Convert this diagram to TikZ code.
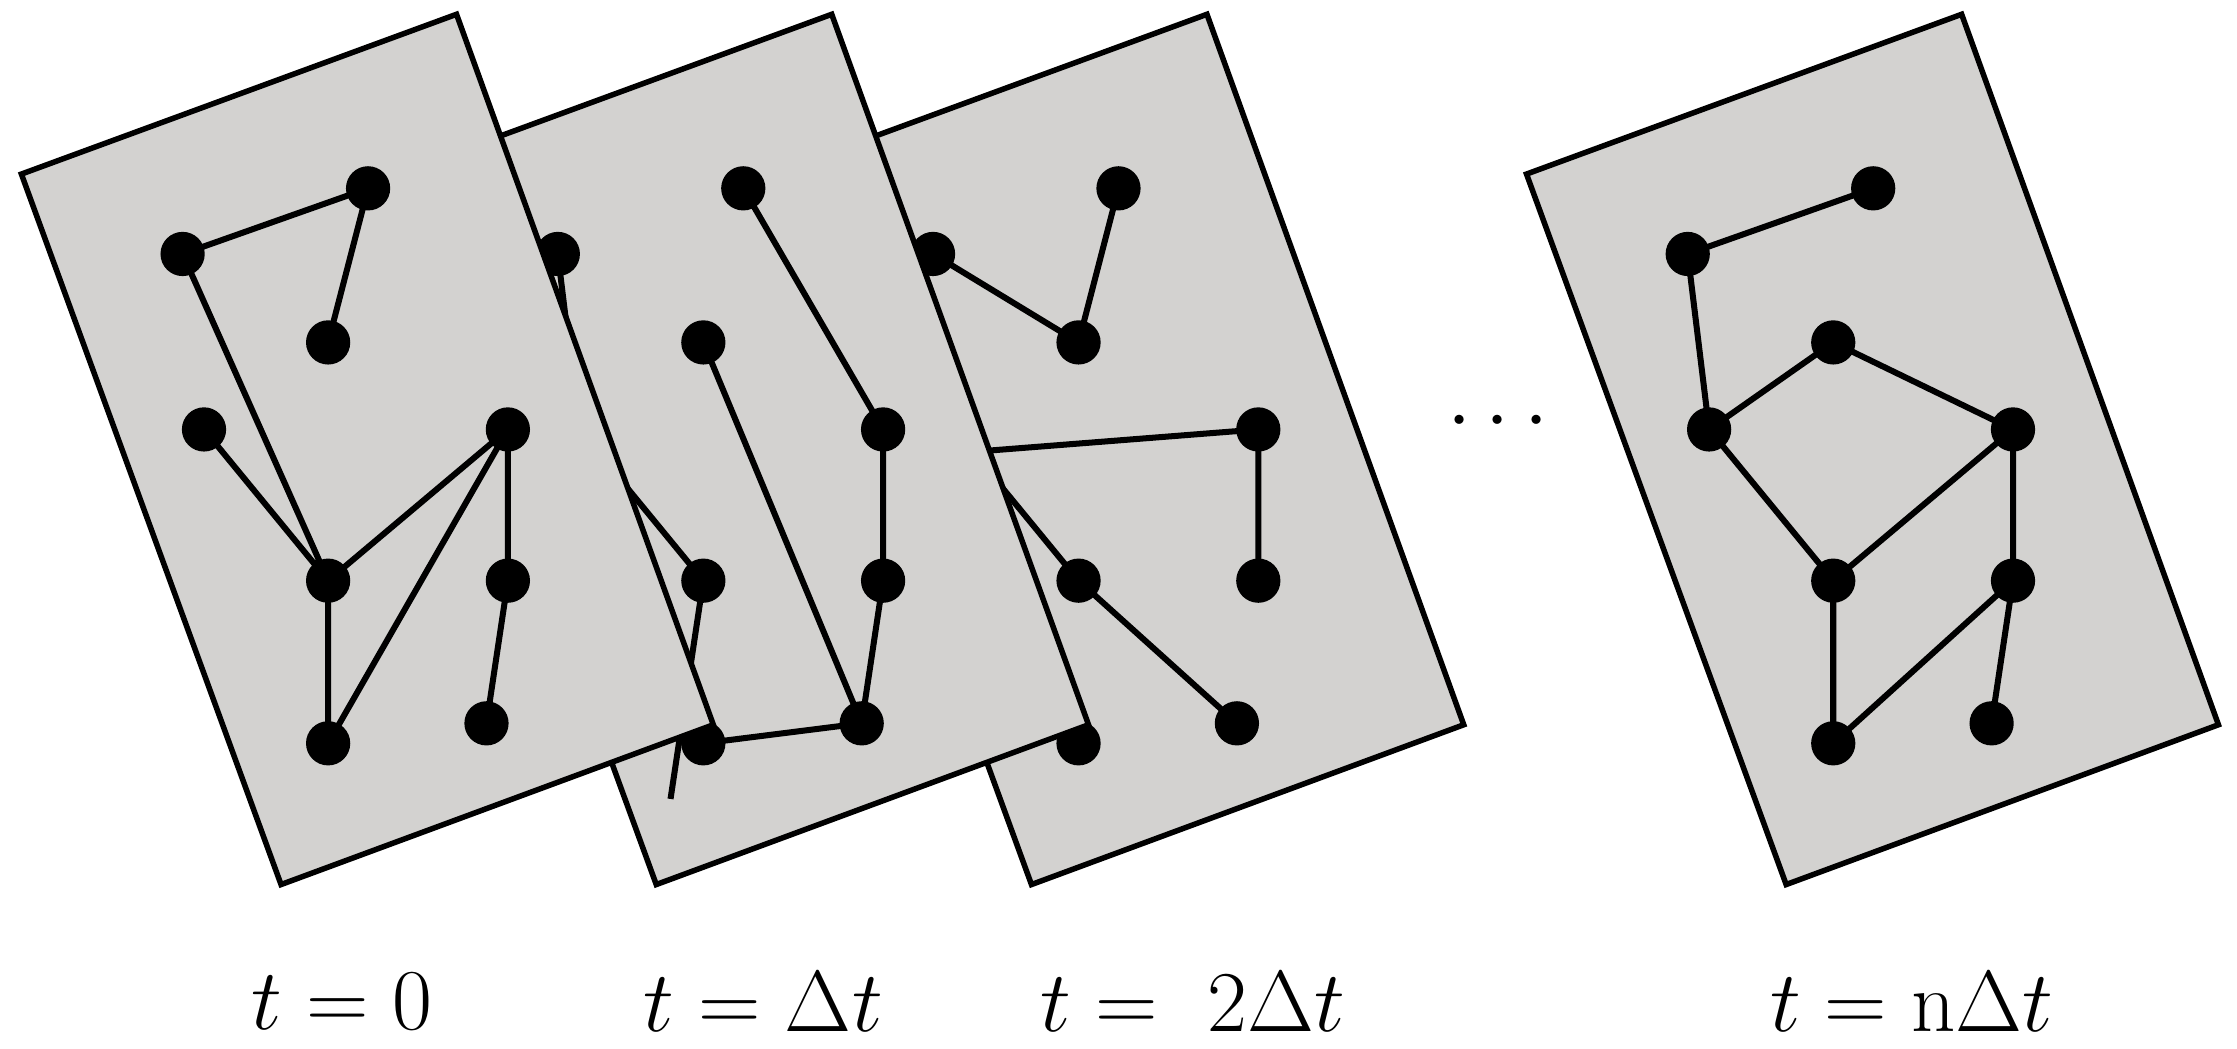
\documentclass[tikz,border=0pt]{standalone}
\begin{document}
\begin{tikzpicture}[x=0.01cm,y=-0.01cm,
  panel/.style={fill={rgb,255:red,211;green,210;blue,208},draw=black,line width=1.1pt},
  dot/.style={circle,fill=black,inner sep=0pt,minimum size=0.31cm},
  edge/.style={line width=1.2pt},
  lab/.style={font=\fontsize{17}{20}\selectfont}]
\useasboundingbox (0,0) rectangle (1568,735);
\newcommand{\panelat}[2]{%
  \begin{scope}[xshift=#1*0.01cm]
  \draw[panel] (15,122) -- (320,10) -- (500,508) -- (197,620) -- cycle;
  \foreach \n/\x/\y in {A/128/178,B/258/132,C/230/240,D/143/301,E/356/301,F/230/407,G/356/407,H/230/521,I/341/507}
    \coordinate (#2\n) at (\x,\y);
  \end{scope}}
\newcommand{\mydots}[2]{\foreach \n in {#2} \node[dot] (#1d\n) at (#1\n) {};}
% panel 4
\panelat{1055}{q}
\draw[edge] (qA)--(qB) (qA)--(qD) (qD)--(qC) (qC)--(qE) (qD)--(qF) (qF)--(qE) (qE)--(qG) (qG)--(qH) (qF)--(qH) (qG)--(qI);
\mydots{q}{A,B,C,D,E,F,G,H,I}
% panel 3
\panelat{526}{r}
\coordinate (rX) at (640,320);
\draw[edge] (rA)--(rC) (rC)--(rB) (rE)--(rX) (rE)--(rG) (rF)--(rI) (rD)--(rF);
\mydots{r}{A,B,C,D,E,F,G,H,I}
% panel 2
\panelat{263}{s}
\coordinate (sX) at (470,560);
\draw[edge] (sA)--(sD) (sD)--(sF) (sF)--(sX) (sB)--(sE) (sE)--(sG) (sG)--(sI) (sC)--(sI) (sH)--(sI);
\mydots{s}{A,B,C,D,E,F,G,H,I}
% panel 1
\panelat{0}{p}
\draw[edge] (pA)--(pB) (pB)--(pC) (pA)--(pF) (pD)--(pF) (pF)--(pE) (pF)--(pH) (pH)--(pE) (pE)--(pG) (pG)--(pI);
\mydots{p}{A,B,C,D,E,F,G,H,I}
\node[lab] (dd) at (1050,296) {$\cdots$};
\node[lab] (l1) at (240,702) {$t = 0$};
\node[lab] (l2) at (535,702) {$t = \Delta t$};
\node[lab] (l3) at (836,702) {$t = \ 2\Delta t$};
\node[lab] (l4) at (1340,702) {$t = \mathrm{n}\Delta t$};
\end{tikzpicture}
\end{document}
